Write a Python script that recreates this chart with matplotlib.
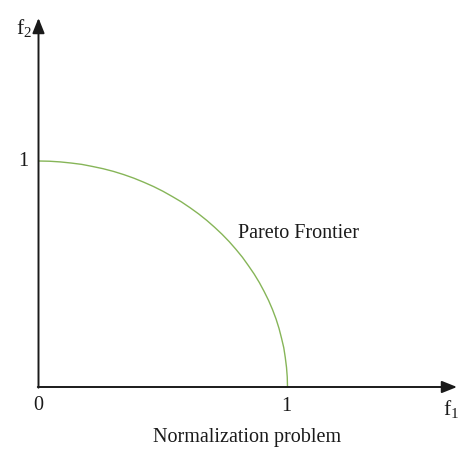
import matplotlib
matplotlib.use("Agg")
import matplotlib.pyplot as plt

# Pareto frontier points (f1, f2)
f1 = [0.0, 0.044, 0.087, 0.131, 0.174, 0.216, 0.259, 0.301, 0.342, 0.383,
      0.423, 0.462, 0.5, 0.537, 0.574, 0.609, 0.643, 0.676, 0.707, 0.737,
      0.766, 0.793, 0.819, 0.843, 0.866, 0.887, 0.906, 0.924, 0.940, 0.954,
      0.966, 0.976, 0.985, 0.991, 0.996, 0.999, 1.0]
f2 = [1.0, 0.999, 0.996, 0.991, 0.985, 0.976, 0.966, 0.954, 0.940, 0.924,
      0.906, 0.887, 0.866, 0.843, 0.819, 0.793, 0.766, 0.737, 0.707, 0.676,
      0.643, 0.609, 0.574, 0.537, 0.5, 0.462, 0.423, 0.383, 0.342, 0.301,
      0.259, 0.216, 0.174, 0.131, 0.087, 0.044, 0.0]

tick_labels_x = ["0", "1"]
tick_labels_y = ["1"]
curve_label = "Pareto Frontier"
title_text = "Normalization problem"

plt.rcParams['mathtext.fontset'] = 'custom'
plt.rcParams['mathtext.rm'] = 'Liberation Serif'
plt.rcParams['mathtext.it'] = 'Liberation Serif'
plt.rcParams['font.family'] = 'Liberation Serif'

W, H = 474, 465
fig = plt.figure(figsize=(W / 100, H / 100), dpi=100)
ax = fig.add_axes([0, 0, 1, 1])
ax.set_axis_off()

# pixel mapping: origin at (38.5, 387 from top), unit: 249 px in x, 226 px in y
ox, oy_top, sx, sy = 38.5, 387.0, 249.0, 226.0
oy = H - oy_top
ax.set_xlim(-ox / sx, (W - ox) / sx)
ax.set_ylim(-oy / sy, (H - oy) / sy)

def px(x, ytop):
    return (x - ox) / sx, ((H - ytop) - oy) / sy

axis_color = '#1a1a1a'
arrow = dict(arrowstyle='-|>,head_length=0.65,head_width=0.26', mutation_scale=14,
             lw=1.4, color=axis_color, shrinkA=0, shrinkB=0)
ax.annotate('', xy=px(457, 387), xytext=px(37.8, 387), arrowprops=arrow)
ax.annotate('', xy=px(38.5, 18), xytext=px(38.5, 387.7), arrowprops=arrow)

ax.plot(f1, f2, color='#86b558', lw=1.0, solid_capstyle='butt')

fs = 14.5
tc = '#1a1a1a'
ax.text(*px(28, 161), tick_labels_y[0], ha='right', va='center', fontsize=fs, color=tc)
ax.text(*px(38.5, 405), tick_labels_x[0], ha='center', va='center', fontsize=fs, color=tc)
ax.text(*px(286, 406), tick_labels_x[1], ha='center', va='center', fontsize=fs, color=tc)
ax.text(*px(16, 28), r'$\mathrm{f}_2$', ha='left', va='center', fontsize=fs + 1, color=tc)
ax.text(*px(443, 409), r'$\mathrm{f}_1$', ha='left', va='center', fontsize=fs + 1, color=tc)
ax.text(*px(238, 233), curve_label, ha='left', va='center', fontsize=fs, color=tc)
ax.text(*px(247, 437), title_text, ha='center', va='center', fontsize=fs, color=tc)

fig.savefig('out.png', dpi=100)
